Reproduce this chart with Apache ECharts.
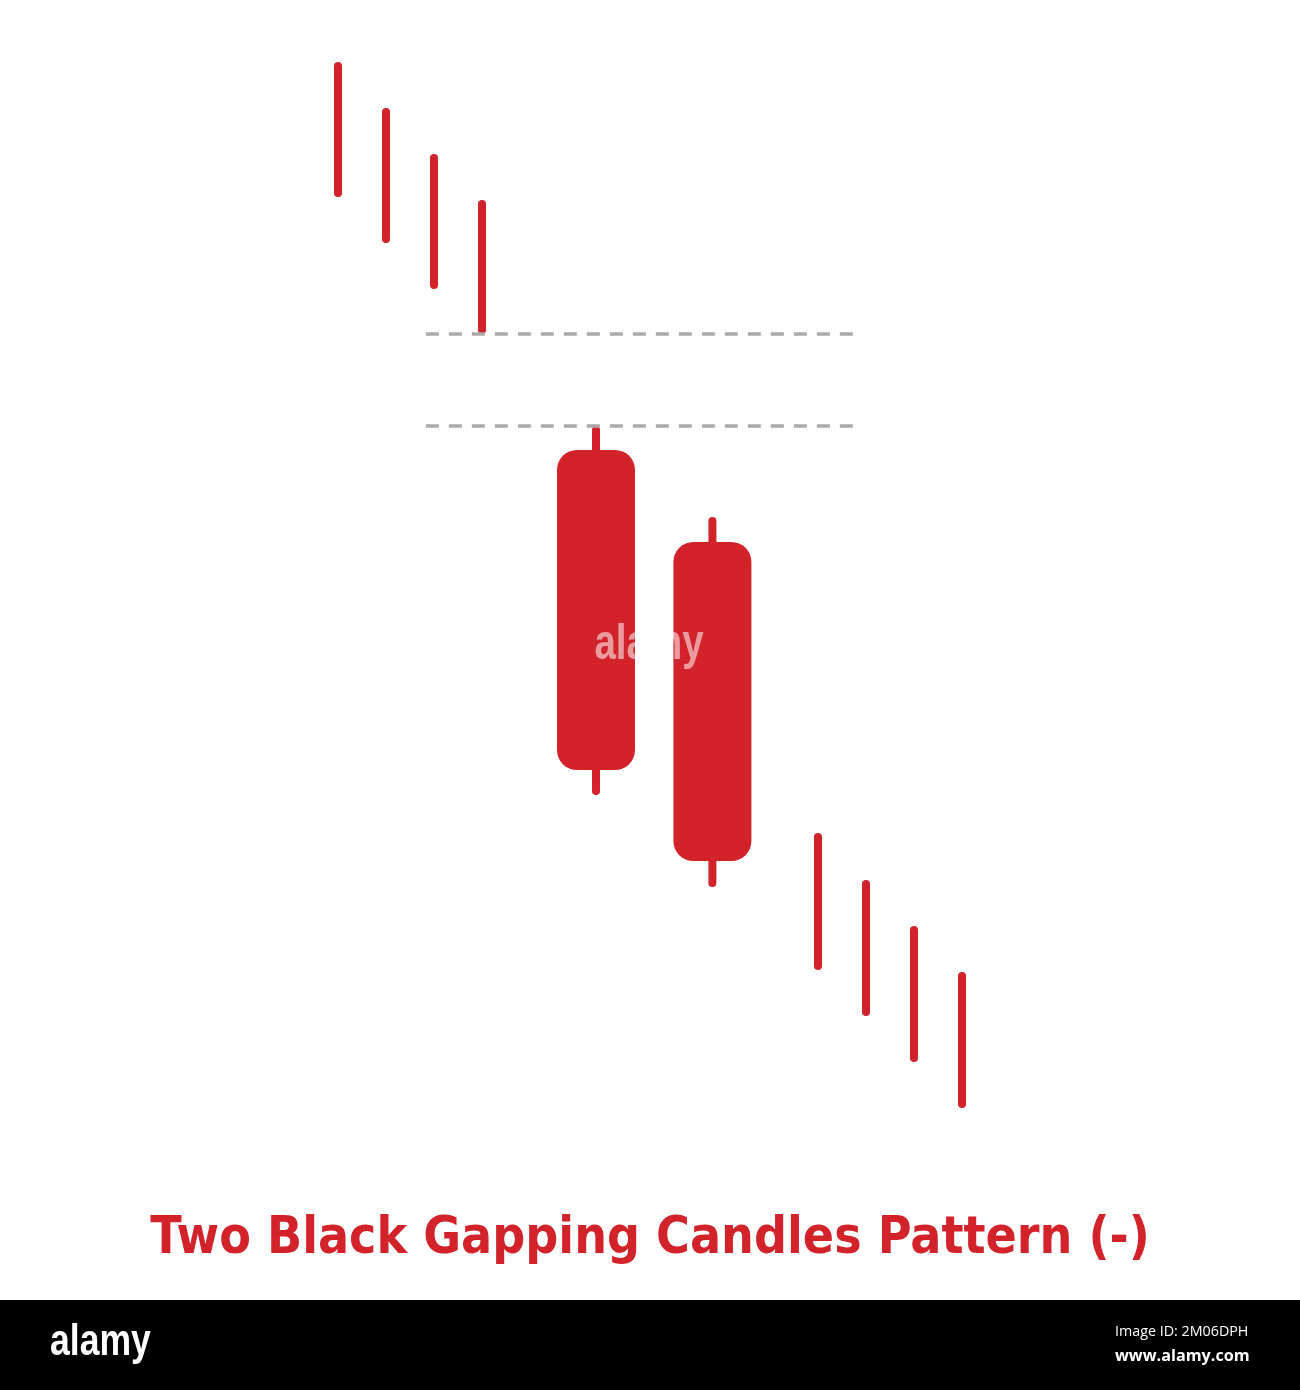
<!DOCTYPE html>
<html>
<head>
<meta charset="utf-8">
<script src="https://cdn.jsdelivr.net/npm/echarts@6/dist/echarts.min.js"></script>
<style>html,body{margin:0;padding:0;background:#fff}#c{width:1300px;height:1390px}</style>
</head>
<body>
<div id="c"></div>
<script>
// Context (trend) candles drawn as thin lines
var ctxX    = [0, 1, 2, 3, 10, 11, 12, 13];
var ctxHigh = [105.8, 101.2, 96.6, 92.0, 28.7, 24.0, 19.4, 14.8];
var ctxLow  = [92.3, 87.7, 83.1, 78.6, 15.0, 10.4, 5.8, 1.2];
// Pattern candles (two black gapping candles)
var patX     = [5.375, 7.8];
var patOpen  = [67.0, 57.8];
var patClose = [35.0, 25.9];
var patLow   = [32.5, 23.3];
var patHigh  = [69.4, 60.3];
// Gap reference levels
var gapLevels = [78.6, 69.4];
var gapFrom = 1.83, gapTo = 10.79;
var titleText = 'Two Black Gapping Candles Pattern (-)';

var RED = '#d2232a';
var chart = echarts.init(document.getElementById('c'), null, {renderer: 'canvas'});

var ctxData = ctxX.map(function (x, i) { return [x, ctxLow[i], ctxHigh[i]]; });
var patData = patX.map(function (x, i) { return [x, patOpen[i], patClose[i], patLow[i], patHigh[i]]; });
var gapData = [];
gapLevels.forEach(function (v) { gapData.push([{coord: [gapFrom, v]}, {coord: [gapTo, v]}]); });

var LOGO_FONT = '"Liberation Sans", Arial, sans-serif';

chart.setOption({
  animation: false,
  backgroundColor: '#fff',
  grid: {left: 2, right: 2, top: 50, bottom: 270},
  xAxis: {type: 'value', min: -7, max: 20, show: false},
  yAxis: {type: 'value', min: 0, max: 107, show: false},
  series: [
    {
      type: 'custom', data: ctxData,
      renderItem: function (params, api) {
        var p1 = api.coord([api.value(0), api.value(1)]);
        var p2 = api.coord([api.value(0), api.value(2)]);
        return {type: 'line', shape: {x1: p1[0], y1: p1[1] - 4, x2: p2[0], y2: p2[1] + 4},
          style: {stroke: RED, lineWidth: 8, lineCap: 'round'}};
      },
      markLine: {
        silent: true, symbol: ['none', 'none'], label: {show: false},
        lineStyle: {color: '#aaaaaa', width: 3.5, type: [13, 10], opacity: 1},
        data: gapData
      },
      z: 3
    },
    {
      type: 'custom', data: patData,
      renderItem: function (params, api) {
        var x = api.value(0);
        var o = api.coord([x, api.value(1)]);
        var c = api.coord([x, api.value(2)]);
        var l = api.coord([x, api.value(3)]);
        var h = api.coord([x, api.value(4)]);
        var w = 78;
        var top = Math.min(o[1], c[1]), bot = Math.max(o[1], c[1]);
        return {type: 'group', children: [
          {type: 'line', shape: {x1: h[0], y1: h[1] + 4, x2: l[0], y2: l[1] - 4},
            style: {stroke: RED, lineWidth: 8, lineCap: 'round'}},
          {type: 'rect', shape: {x: o[0] - w / 2, y: top, width: w, height: bot - top, r: 20},
            style: {fill: RED}}
        ]};
      },
      z: 4
    }
  ],
  graphic: [
    {type: 'text', x: 650, y: 1239, scaleX: 0.8875, z: 50,
      style: {text: titleText, fill: RED, align: 'center', verticalAlign: 'middle',
        font: 'bold 52px "DejaVu Sans", sans-serif'}},
    {type: 'text', x: 649, y: 645, scaleX: 0.77, z: 100,
      style: {text: 'alamy', fill: 'rgba(255,255,255,0.55)', align: 'center', verticalAlign: 'middle',
        font: 'bold 50px ' + LOGO_FONT}},
    {type: 'rect', left: 0, top: 1300, z: 100, shape: {width: 1300, height: 90}, style: {fill: '#000'}},
    {type: 'text', x: 50, y: 1343, scaleX: 0.79, z: 101,
      style: {text: 'alamy', fill: '#fff', align: 'left', verticalAlign: 'middle',
        font: 'bold 45px ' + LOGO_FONT}},
    {type: 'text', x: 1115, y: 1332, z: 101,
      style: {text: 'Image ID: 2M06DPH', fill: '#fff', align: 'left', verticalAlign: 'middle',
        font: '14.3px "Open Sans", sans-serif'}},
    {type: 'text', x: 1115, y: 1356, z: 101,
      style: {text: 'www.alamy.com', fill: '#fff', align: 'left', verticalAlign: 'middle',
        font: 'bold 16.2px "Open Sans", sans-serif'}}
  ]
});
</script>
</body>
</html>
